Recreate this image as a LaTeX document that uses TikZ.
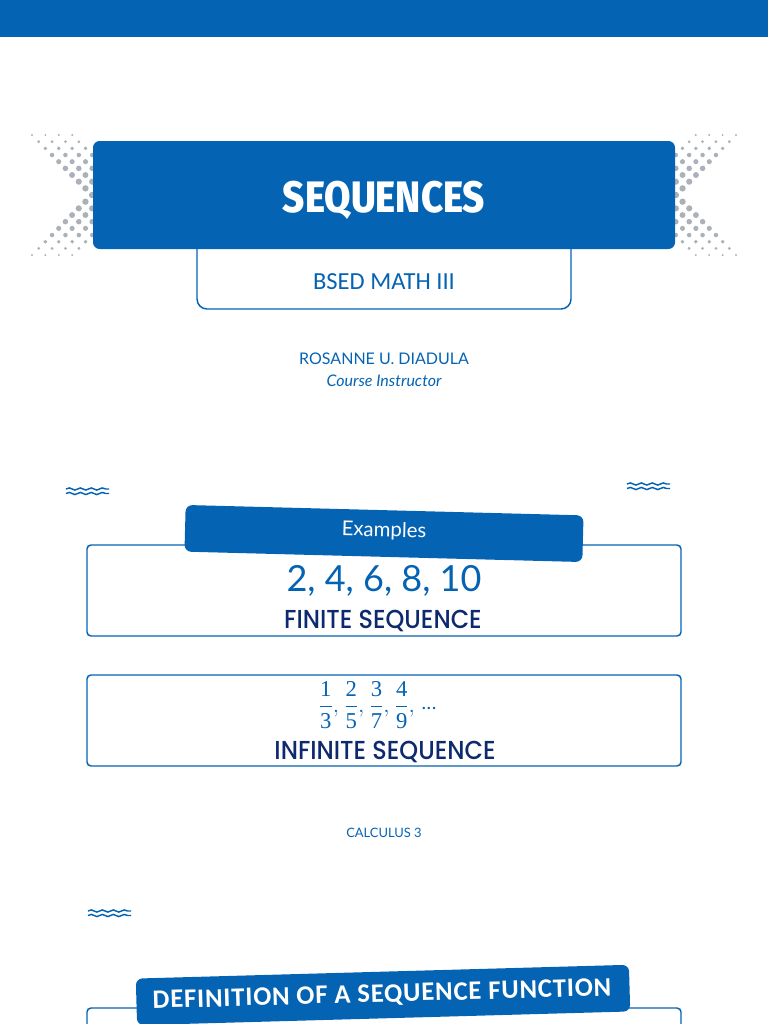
\documentclass[tikz,border=0pt]{standalone}
\usepackage{amsmath}
\usepackage{fontspec}
\setmainfont{Lato}
\newfontfamily\titlefont{Fira Sans ExtraBold}
\newfontfamily\subfont{Carlito}
\newfontfamily\headfont{Poppins Medium}
\newfontfamily\fracfont{Liberation Serif}
\usetikzlibrary{decorations.pathmorphing}
\definecolor{bandblue}{HTML}{0563B3}
\definecolor{navyblue}{HTML}{0E2A6E}
\definecolor{dotgrey}{HTML}{ABB1B8}
\newcommand{\fracpart}[2]{\dfrac{\text{\fracfont #1}}{\text{\fracfont #2}}\mkern1mu,\mkern2mu}
\tikzset{
panel/.style={draw=bandblue, line width=1.1pt, rounded corners=3pt},
tagbox/.style={fill=bandblue, rounded corners=5pt, minimum width=298.5pt, minimum height=35pt, inner sep=0pt},
bluetext/.style={text=bandblue, inner sep=0pt},
seqname/.style={text=navyblue, inner sep=0pt, xscale=.92, font=\headfont\fontsize{19.5}{22}\selectfont},
waves/.pic={
\foreach \w in {0,4.5}
\draw[bandblue, line width=1.1pt, decorate, decoration={snake, amplitude=.8pt, segment length=8.2pt}] (0,\w) -- (43,\w);
}
}
\begin{document}
\begin{tikzpicture}[x=.75pt, y=-.75pt]
\useasboundingbox (0,0) rectangle (768,1024);
\clip (0,0) rectangle (768,1024);
\fill[bandblue] (0,0) rectangle (768,37);
% halftone crosses behind the title
\foreach \r in {0,...,18}
\foreach \c in {0,...,3}
{
\pgfmathsetmacro{\dist}{abs(\r-9)}
\pgfmathsetmacro{\px}{32+6.68*(9-\dist)+13.4*\c}
\pgfmathsetmacro{\rad}{(3.2-.026*\dist*\dist)*.75}
\fill[dotgrey] (\px,135+6.67*\r) circle [radius=\rad pt];
\fill[dotgrey] (768-\px,135+6.67*\r) circle [radius=\rad pt];
}
% title
\draw[panel, rounded corners=7.5pt] (197,240) -- (197,309) -- (571,309) -- (571,240);
\fill[bandblue, rounded corners=5pt] (93,141) rectangle (675,249);
\node[text=white, inner sep=0pt, xscale=.87, font=\titlefont\fontsize{33}{36}\selectfont] (title) at (384,200) {SEQUENCES};
\node[bluetext, font=\subfont\fontsize{18.4}{20}\selectfont] (course) at (384,281.5) {BSED MATH III};
\node[bluetext, font=\fontsize{12}{14}\selectfont] (teacher) at (384,359) {ROSANNE U. DIADULA};
\node[bluetext, font=\itshape\fontsize{12}{14}\selectfont] (role) at (384,381) {Course Instructor};
\pic at (66,489) {waves};
\pic at (627,484) {waves};
\pic at (88,911) {waves};
% examples
\draw[panel] (87,545) rectangle (681,636);
\draw[panel] (87,675) rectangle (681,766);
\node[tagbox, rotate=-1.5] (extag) at (384,533.5) {};
\node[text=white, rotate=-1.5, inner sep=0pt, font=\fontsize{15.3}{17}\selectfont] (exlabel) at (384,531) {Examples};
\node[bluetext, font=\fontsize{27}{30}\selectfont] (finite) at (384,581) {2, 4, 6, 8, 10};
\node[seqname] (finitename) at (383,621) {FINITE SEQUENCE};
\node[bluetext, font=\fontsize{17}{20}\selectfont] (infinite) at (380,705) {$\nulldelimiterspace=0pt\fracpart{1}{3}\fracpart{2}{5}\fracpart{3}{7}\fracpart{4}{9}{\boldsymbol{\scriptstyle\cdots}}$};
\node[seqname] (infinitename) at (385,752) {INFINITE SEQUENCE};
\node[bluetext, font=\fontsize{9.7}{12}\selectfont] (footer) at (384,832.5) {CALCULUS 3};
% definition
\draw[panel] (87,1008) rectangle (681,1060);
\node[tagbox, minimum width=370pt, rotate=1.6] (deftag) at (383,995) {};
\node[text=white, rotate=1.6, inner sep=0pt, font=\subfont\bfseries\fontsize{20}{22}\selectfont\addfontfeature{LetterSpace=3}] (deflabel) at (382,995) {DEFINITION OF A SEQUENCE FUNCTION};
\end{tikzpicture}
\end{document}
